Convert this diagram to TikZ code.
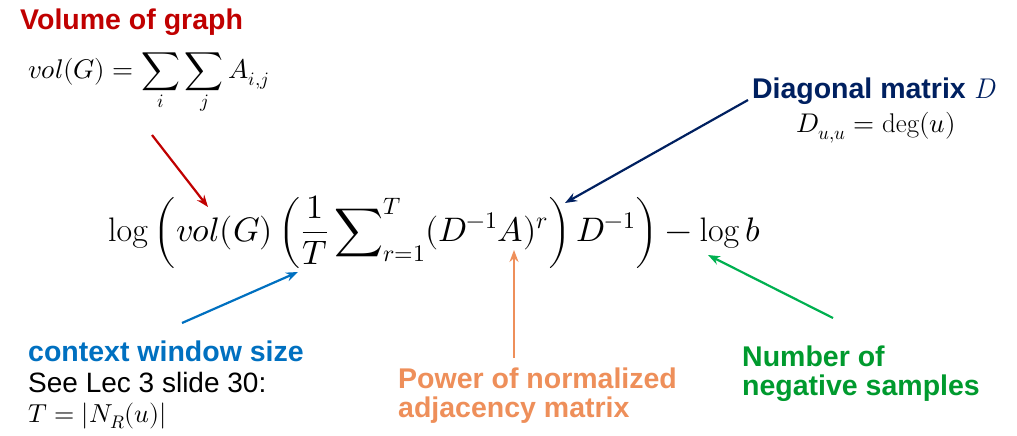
\documentclass[tikz,border=0pt]{standalone}
\usepackage{amsmath}
\usepackage{unicode-math}
\setmathfont{Latin Modern Math}
\newfontfamily\labf{Liberation Sans}
\usetikzlibrary{arrows.meta}
\definecolor{dred}{HTML}{C00000}
\definecolor{navy}{HTML}{002060}
\definecolor{cblue}{HTML}{0070C0}
\definecolor{corange}{HTML}{EE8F5A}
\definecolor{cgreen}{HTML}{00B050}
\definecolor{tgreen}{HTML}{009A2E}
\tikzset{lab/.style={font=\labf\fontsize{28.5}{33}\selectfont\bfseries, inner sep=0pt, anchor=west},
 txt/.style={font=\labf\fontsize{28}{32}\selectfont, inner sep=0pt, anchor=west},
 arr/.style={-{Stealth[length=12pt,width=9pt]}, line width=2.2pt}}
\begin{document}
\begin{tikzpicture}[x=1pt,y=-1pt]
\useasboundingbox (0,0) rectangle (1017,436);
\node[lab,text=dred] (vt) at (20,22) {Volume of graph};
\node[inner sep=0pt,anchor=west,font=\fontsize{27}{32}\selectfont] (vf) at (28,84) {$vol(G)=\displaystyle\sum_i\sum_j A_{i,j}$};
\node[inner sep=0pt,anchor=west,font=\fontsize{34}{40}\selectfont] (mf) at (108,232) {$\log\left(vol(G)\left(\dfrac{1}{T}\displaystyle\sum\nolimits_{r=1}^{T}(D^{-1}A)^r\right)D^{-1}\right)-\log b$};
\node[lab,text=navy,anchor=east] (dt) at (995,91) {Diagonal matrix \normalfont\itshape D};
\node[inner sep=0pt,font=\fontsize{27}{32}\selectfont] (df) at (876,128) {$D_{u,u}=\deg(u)$};
\node[lab,text=cblue] (ct) at (28,351) {context window size};
\node[txt] (cs) at (28,382) {See Lec 3 slide 30:};
\node[inner sep=0pt,anchor=west,font=\fontsize{26}{30}\selectfont] (cf) at (28,416) {$T=|N_R(u)|$};
\node[lab,text=corange] (pt) at (398,378) {Power of normalized};
\node[lab,text=corange] (pt2) at (398,410) {adjacency matrix};
\node[lab,text=tgreen] (nt) at (742,356) {Number of};
\node[lab,text=tgreen] (nt2) at (742,388) {negative samples};
\coordinate (r1) at (152,135); \coordinate (r2) at (208,207);
\coordinate (n1) at (748,100); \coordinate (n2) at (565,203);
\coordinate (b1) at (182,323); \coordinate (b2) at (298,272);
\coordinate (o1) at (514,358); \coordinate (o2) at (514,250);
\coordinate (g1) at (833,318); \coordinate (g2) at (708,255);
\draw[arr,dred] (r1) -- (r2);
\draw[arr,navy] (n1) -- (n2);
\draw[arr,cblue] (b1) -- (b2);
\draw[arr,corange] (o1) -- (o2);
\draw[arr,cgreen] (g1) -- (g2);
\end{tikzpicture}
\end{document}
